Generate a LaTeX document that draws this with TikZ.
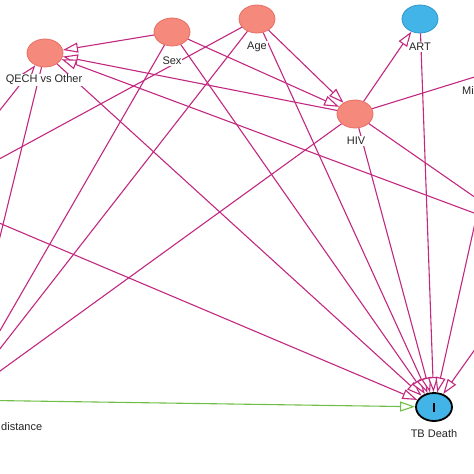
\documentclass[tikz,border=0pt]{standalone}
\usepackage{fontspec}
\setmainfont{Liberation Sans}
\usetikzlibrary{arrows.meta,shapes.geometric}
\definecolor{biaspink}{RGB}{194,40,128}
\definecolor{causalgreen}{RGB}{112,190,72}
\definecolor{ancfill}{RGB}{245,138,124}
\definecolor{ancline}{RGB}{230,110,98}
\definecolor{outfill}{RGB}{66,180,232}
\definecolor{artline}{RGB}{45,150,205}
\tikzset{
  varnode/.style={draw=ancline, fill=ancfill, ellipse, line width=0.8pt, minimum width=36pt, minimum height=28pt, inner sep=0pt},
  artnode/.style={varnode, draw=artline, fill=outfill},
  outnode/.style={varnode, draw=black, fill=outfill, line width=1.8pt},
  offnode/.style={ellipse, minimum width=36pt, minimum height=28pt, inner sep=0pt},
  varlabel/.style={fill=white, inner sep=1pt, text=black!85, font=\fontsize{11}{13}\selectfont},
  biasarrow/.style={-{Triangle[length=15pt, width=10pt, fill=white]}, draw=biaspink, line width=1.1pt},
  causalarrow/.style={-{Triangle[length=15pt, width=10pt, fill=white]}, draw=causalgreen, line width=1.1pt}
}
\begin{document}
\begin{tikzpicture}[x=1pt, y=-1pt]
  \useasboundingbox (0,0) rectangle (474,474);
  \clip (0,0) rectangle (474,474);
  % variables
  \node[varnode] (qech) at (45,53) {};
  \node[varnode] (sex) at (172,32) {};
  \node[varnode] (age) at (257,19) {};
  \node[artnode] (art) at (420,19) {};
  \node[varnode] (hiv) at (355,114) {};
  \node[outnode] (tb) at (434,407) {};
  % variables outside the frame
  \node[offnode] (dist) at (-40,400) {};
  \node[offnode] (left) at (-67,195) {};
  \node[offnode] (mi) at (510,66) {};
  \node[offnode] (right) at (525,232) {};
  \node[offnode] (rightlow) at (520,286) {};
  % biasing paths
  \draw[biasarrow] (sex) -- (qech);
  \draw[biasarrow] (hiv) -- (qech);
  \draw[biasarrow] (right) -- (qech);
  \draw[biasarrow] (left) -- (qech);
  \draw[biasarrow] (age) -- (hiv);
  \draw[biasarrow] (sex) -- (hiv);
  \draw[biasarrow] (hiv) -- (art);
  \draw[biasarrow] (age) -- (left);
  \draw[biasarrow] (qech) -- (dist);
  \draw[biasarrow] (sex) -- (dist);
  \draw[biasarrow] (age) -- (dist);
  \draw[biasarrow] (hiv) -- (dist);
  \draw[biasarrow] (hiv) -- (right);
  \draw[biasarrow] (hiv) -- (mi);
  \draw[biasarrow] (left) -- (tb);
  \draw[biasarrow] (qech) -- (tb);
  \draw[biasarrow] (sex) -- (tb);
  \draw[biasarrow] (age) -- (tb);
  \draw[biasarrow] (hiv) -- (tb);
  \draw[biasarrow] (art) -- (tb);
  \draw[biasarrow] (mi) -- (tb);
  \draw[biasarrow] (rightlow) -- (tb);
  % causal path
  \draw[causalarrow] (dist) -- (tb);
  \draw[line width=2.6pt] ([yshift=-4.5pt]tb.center) -- ([yshift=4.5pt]tb.center);
  % labels
  \node[varlabel] (qechlab) at (44,80) {QECH vs Other};
  \node[varlabel] (sexlab) at (172,61) {Sex};
  \node[varlabel] (agelab) at (257,47) {Age};
  \node[varlabel] (artlab) at (420,47) {ART};
  \node[varlabel] (hivlab) at (356,141) {HIV};
  \node[varlabel] (tblab) at (434,434) {TB Death};
  \node[varlabel, anchor=west] (distlab) at (0,427) {distance};
  \node[varlabel, anchor=west] (milab) at (461,91) {Mi};
\end{tikzpicture}
\end{document}
